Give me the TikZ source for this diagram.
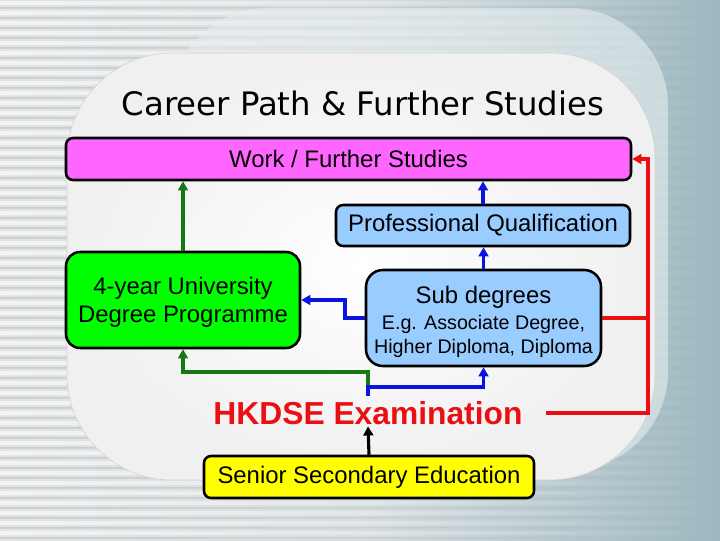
\documentclass[tikz,border=0pt]{standalone}
\usepackage{fontspec}
\setmainfont{Liberation Sans}
\newfontfamily\titlefont{DejaVu Sans}
\usetikzlibrary{arrows.meta,calc,fadings}
\tikzfading[name=fadeR, left color=transparent!0, right color=transparent!100]
\definecolor{bgteal}{RGB}{157,184,192}
\definecolor{bggray}{RGB}{226,228,229}
\definecolor{mag}{RGB}{255,102,255}
\definecolor{lblue}{RGB}{153,204,255}
\definecolor{lgreen}{RGB}{0,255,0}
\definecolor{ylw}{RGB}{255,255,0}
\definecolor{dgreen}{RGB}{20,120,20}
\definecolor{cblue}{RGB}{10,20,225}
\definecolor{cred}{RGB}{235,15,20}
\tikzset{
  box/.style={draw=black, line width=1.8pt, inner sep=0pt, align=center, text=black},
  conn/.style={line width=2.2pt, -{Triangle[length=6.5pt,width=7pt]}},
  plain/.style={line width=2.2pt}
}
\begin{document}
\begin{tikzpicture}[x=0.025cm,y=-0.025cm]
\useasboundingbox (0,0) rectangle (720,540);
% background
\shade[left color=bggray, right color=bgteal, middle color=bggray!85!bgteal] (0,0) rectangle (720,540);
\fill[white, opacity=0.6, path fading=fadeR]
  \foreach \i in {0,...,53}{ (0,\i*10+1) rectangle (720,\i*10+5) };
\fill[gray, opacity=0.25, path fading=fadeR]
  \foreach \i in {0,...,53}{ (0,\i*10+7) rectangle (720,\i*10+8.5) };
% back page
\fill[rounded corners=70, fill=white!75!bgteal, opacity=0.6] (170,8) rectangle (668,470);
% panel
\shade[rounded corners=75, inner color=white, outer color=gray!12, draw=gray!35] (67,53) rectangle (655,480);
% title
\node (title) at (363,103) {\titlefont\fontsize{23pt}{27pt}\selectfont Career Path \& Further Studies};
% boxes
\node[box, fill=mag, rounded corners=5, minimum width=565*0.025cm, minimum height=42*0.025cm,
      font=\fontsize{17pt}{20pt}\selectfont] (work) at (348.5,159) {Work / Further Studies};
\node[box, fill=lblue, rounded corners=5, minimum width=294*0.025cm, minimum height=41*0.025cm,
      font=\fontsize{17pt}{20pt}\selectfont] (prof) at (483,225.5) {Professional Qualification};
\node[box, fill=lgreen, rounded corners=10, minimum width=234*0.025cm, minimum height=96*0.025cm,
      font=\fontsize{17pt}{20pt}\selectfont] (univ) at (183,300) {\rule{0pt}{15pt}4-year University\\Degree Programme};
\node[box, fill=lblue, rounded corners=12, minimum width=235*0.025cm, minimum height=96*0.025cm] (sub) at (483.5,318)
      {\fontsize{17pt}{20pt}\selectfont \rule{0pt}{18pt}Sub degrees\\[3.5pt]
       \fontsize{14pt}{17pt}\selectfont E.g. Associate Degree,\\[3.5pt]
       \fontsize{14pt}{17pt}\selectfont Higher Diploma, Diploma};
\node[text=cred, font=\bfseries\fontsize{22.6pt}{26pt}\selectfont, inner sep=1pt] (hk) at (368,413) {HKDSE Examination};
\node[box, fill=ylw, rounded corners=5, minimum width=330*0.025cm, minimum height=42*0.025cm,
      font=\fontsize{17pt}{20pt}\selectfont] (sen) at (369,477) {Senior Secondary Education};
% junction coordinates
\coordinate (hkt) at (368,396);
\coordinate (jn) at (368,387);
\coordinate (hke) at (546,413);
\coordinate (rx) at (648,413);
% connectors
\draw[conn, dgreen] (univ.north) -- (univ.north |- work.south);
\draw[conn, cblue] (prof.north) -- (prof.north |- work.south);
\draw[conn, cblue] (sub.north) -- (sub.north |- prof.south);
\draw[conn, dgreen] (jn) -- (368,372) -| (univ.south);
\draw[conn, cblue] (hkt) -- (jn) -| (sub.south);
\draw[conn, cblue] (sub.west) -- (345,318) |- (univ.east);
\draw[plain, cred] (sub.east) -- (sub.east -| rx);
\draw[conn, cred] (hke) -- (rx) |- (work.east);
\draw[conn, black] (sen.north) -- (hk.south);
\end{tikzpicture}
\end{document}
